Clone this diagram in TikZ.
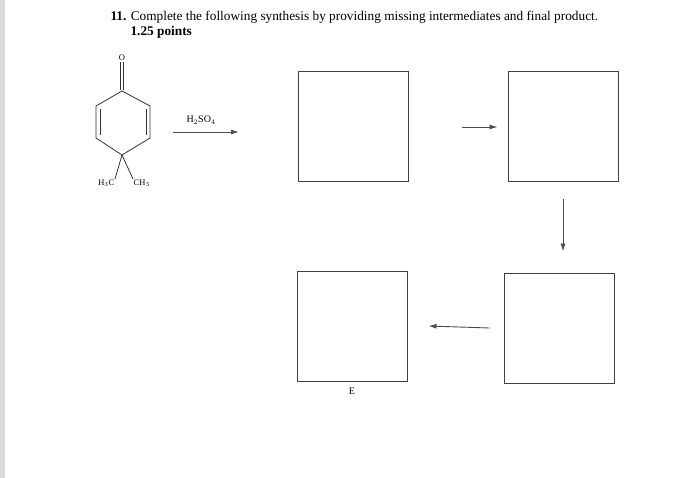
\documentclass[tikz,border=0pt]{standalone}
\usepackage{fontspec}
\setmainfont{Liberation Serif}
\usepackage{amsmath}
\usetikzlibrary{arrows.meta}
\tikzset{
  answerbox/.style={draw=black!75, line width=1pt, minimum width=110pt, minimum height=110pt, inner sep=0pt},
  rxnarrow/.style={draw=black!70, line width=0.9pt, -{Latex[length=8pt,width=5pt]}},
  bond/.style={draw=black!80, line width=0.8pt},
  atom/.style={inner sep=0.5pt, font=\fontsize{8.5}{9}\selectfont}
}
\begin{document}
\begin{tikzpicture}[x=1pt,y=-1pt]
\useasboundingbox (0,0) rectangle (700,478);
\fill [black!15] (0,0) rectangle (5,478);
\node [anchor=base west, font=\fontsize{13.3}{15}\selectfont] (title) at (107,21) {\textbf{11.} Complete the following synthesis by providing missing intermediates and final product.};
\node [anchor=base west, font=\fontsize{13.3}{15}\selectfont\bfseries] (pts) at (127,36) {1.25 points};
% starting material
\node [atom] (O) at (122,58) {O};
\coordinate (c1) at (122,91);
\coordinate (c2) at (150,106);
\coordinate (c3) at (150,138);
\coordinate (c4) at (122,155);
\coordinate (c5) at (96,138);
\coordinate (c6) at (96,106);
\draw [bond] (c1) -- (c2) -- (c3) -- (c4) -- (c5) -- (c6) -- cycle;
\draw [bond] (O.south) ++(-1.5,0) -- ++(0,28);
\draw [bond] (O.south) ++(1.5,0) -- ++(0,28);
\draw [bond] ([xshift=-4pt]c2) ++(0,3) -- ++(0,26);
\draw [bond] ([xshift=4pt]c6) ++(0,3) -- ++(0,26);
\node [atom, anchor=east] (me1) at (115,183) {H$_3$C};
\node [atom, anchor=west] (me2) at (133,183) {CH$_3$};
\draw [bond] (c4) -- (me1.north east);
\draw [bond] (c4) -- (me2.north west);
% reagent
\coordinate (a0) at (173,132);
\coordinate (a1) at (239,132);
\draw [rxnarrow] (a0) -- (a1);
\node [atom, font=\fontsize{10}{11}\selectfont] (reag) at (201,120) {H$_2$SO$_4$};
% answer boxes
\node [answerbox] (b1) at (353,127) {};
\node [answerbox] (b2) at (563,127) {};
\node [answerbox] (b3) at (559,328) {};
\node [answerbox, label={[font=\fontsize{10}{11}\selectfont, yshift=-3pt]below:E}] (b4) at (352,326) {};
\draw [rxnarrow] ([xshift=-46pt]b2.west) -- ([xshift=-10pt]b2.west);
\draw [rxnarrow] ([yshift=-17pt]b2.south) -- ([yshift=-69pt]b2.south);
\draw [rxnarrow] ([xshift=-14pt]b3.west) -- ([xshift=21pt]b4.east);
\end{tikzpicture}
\end{document}
